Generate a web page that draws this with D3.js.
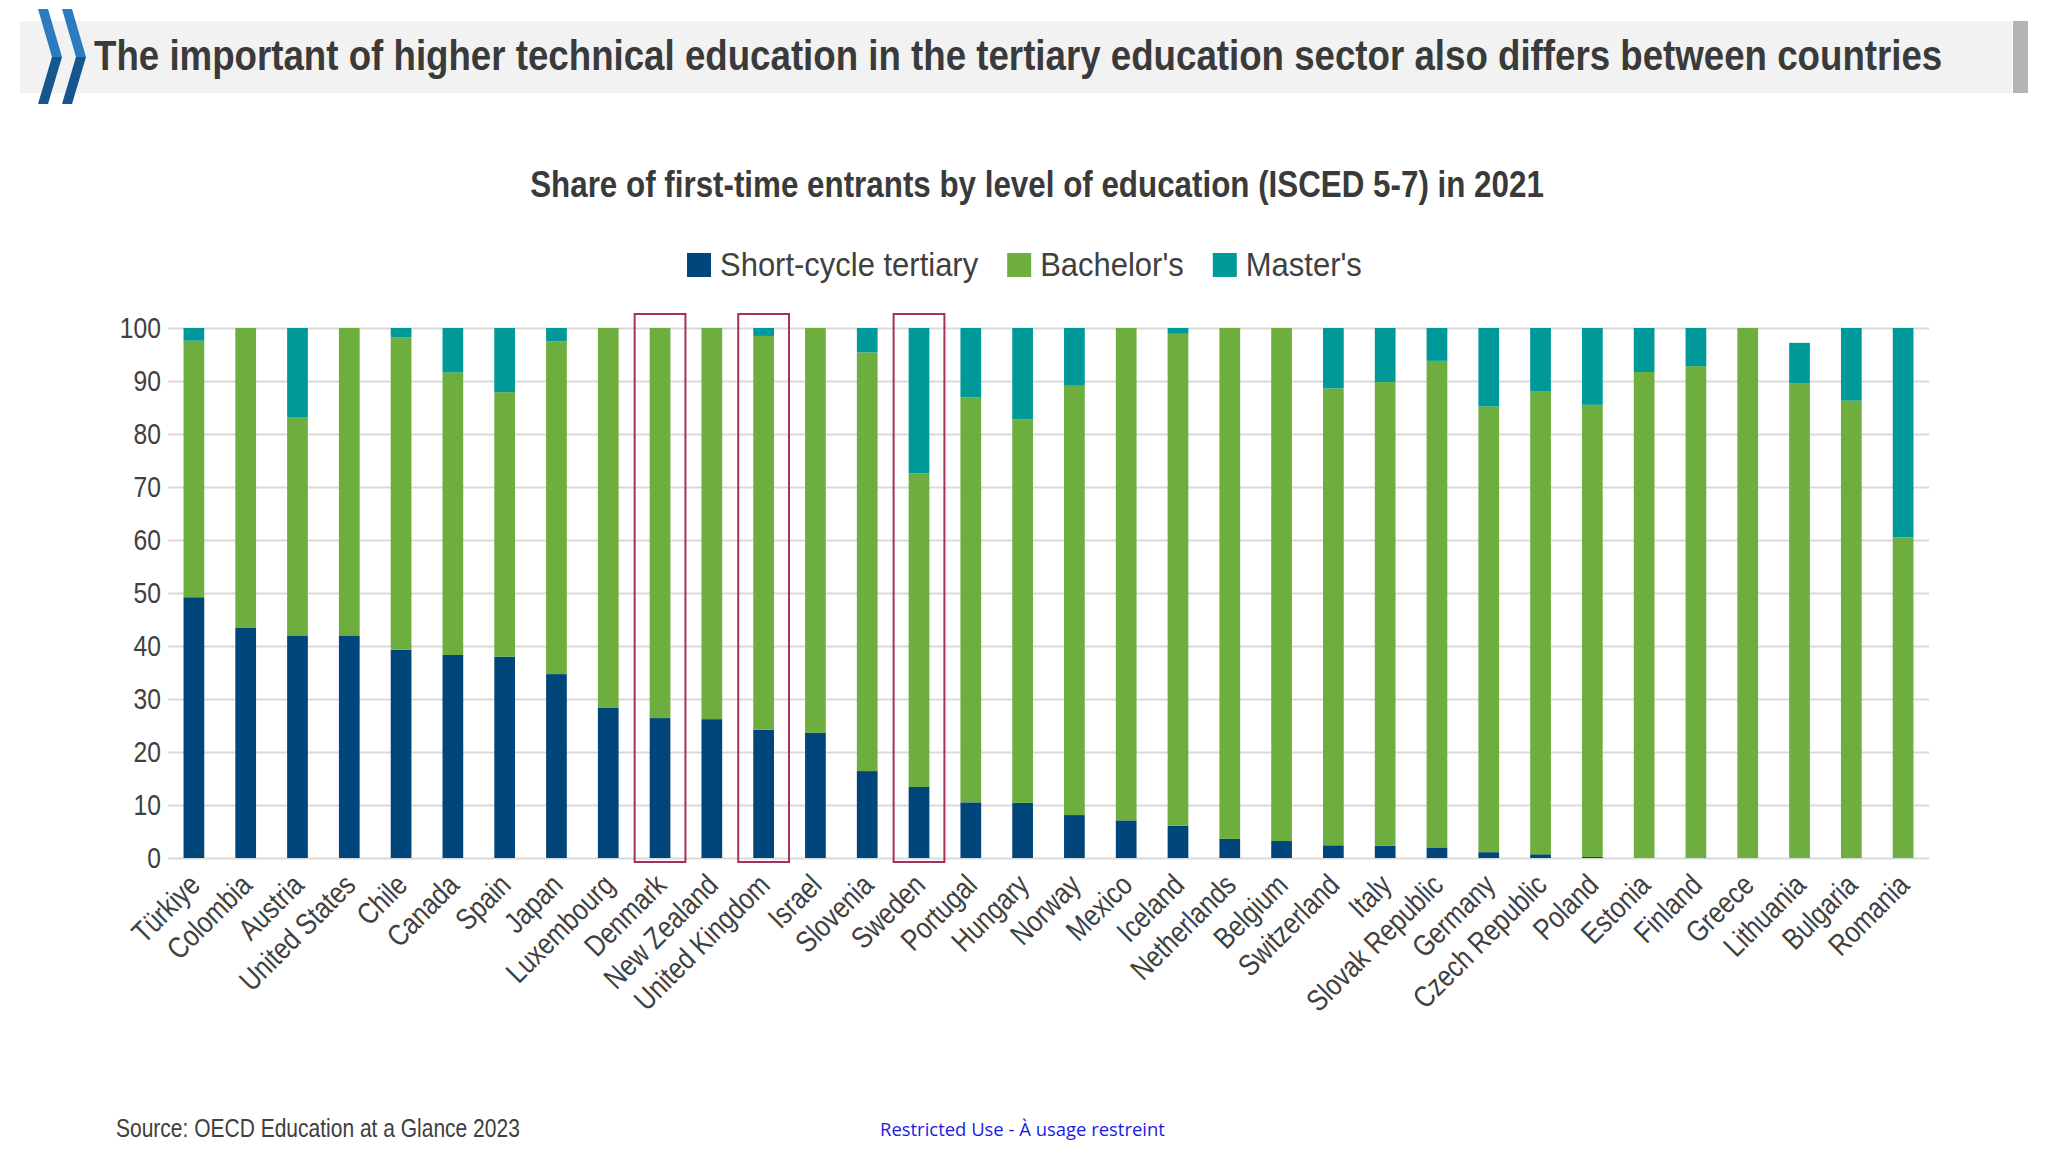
<!DOCTYPE html>
<html>
<head>
<meta charset="utf-8">
<script src="https://cdn.jsdelivr.net/npm/d3@7"></script>
<style>
  html, body { margin: 0; padding: 0; background: #ffffff; }
  svg { display: block; }
</style>
</head>
<body>
<svg id="chart" width="2048" height="1152"></svg>
<script>
// ---------------- DATA ----------------
const countries = ["Türkiye","Colombia","Austria","United States","Chile","Canada","Spain","Japan","Luxembourg","Denmark","New Zealand","United Kingdom","Israel","Slovenia","Sweden","Portugal","Hungary","Norway","Mexico","Iceland","Netherlands","Belgium","Switzerland","Italy","Slovak Republic","Germany","Czech Republic","Poland","Estonia","Finland","Greece","Lithuania","Bulgaria","Romania"];
const shortCycle = [49.2,43.4,42.0,42.0,39.3,38.3,38.0,34.7,28.4,26.4,26.2,24.2,23.6,16.4,13.4,10.5,10.4,8.1,7.1,6.1,3.6,3.2,2.4,2.3,2.0,1.1,0.7,0.2,0,0,0,0,0,0];
const bachelors  = [48.4,56.6,41.2,58.0,58.9,53.3,49.9,62.8,71.6,73.6,73.8,74.3,76.4,79.0,59.2,76.4,72.4,81.0,92.9,92.8,96.4,96.8,86.2,87.5,91.8,84.1,87.4,85.3,91.7,92.8,100,89.6,86.3,60.5];
const masters    = [2.4,0,16.8,0,1.8,8.4,12.1,2.5,0,0,0,1.5,0,4.6,27.4,13.1,17.2,10.9,0,1.1,0,0,11.4,10.2,6.2,14.8,11.9,14.5,8.3,7.2,0,7.6,13.7,39.5];
const seriesNames = ["Short-cycle tertiary","Bachelor's","Master's"];
const highlighted = ["Denmark","United Kingdom","Sweden"];
const yTicks = [0,10,20,30,40,50,60,70,80,90,100];
const headerTitle = "The important of higher technical education in the tertiary education sector also differs between countries";
const chartTitle = "Share of first-time entrants by level of education (ISCED 5-7) in 2021";
const sourceText = "Source: OECD Education at a Glance 2023";
const restrictedText = "Restricted Use - À usage restreint";

// ---------------- STYLE ----------------
const colors = ["#00467a", "#6dae3e", "#009999"];
const sans = '"Liberation Sans",Arial,sans-serif';
const textColor = "#404040";

const svg = d3.select("#chart");
svg.append("rect").attr("width", 2048).attr("height", 1152).attr("fill", "#ffffff");

// text placed at (x,y) and squeezed horizontally to a target width
function fittedText(parent, str, x, y, anchor, targetWidth, attrs) {
  const g = parent.append("g").attr("transform", `translate(${x},${y})`);
  const t = g.append("text").attr("x", 0).attr("y", 0).attr("text-anchor", anchor);
  Object.entries(attrs).forEach(([k, v]) => t.attr(k, v));
  t.text(str);
  const w = t.node().getComputedTextLength();
  t.attr("transform", `scale(${targetWidth / w},1)`);
  return t;
}

// ---------------- HEADER ----------------
svg.append("rect").attr("x", 20).attr("y", 21).attr("width", 1992).attr("height", 72).attr("fill", "#f2f2f2");
svg.append("rect").attr("x", 2013).attr("y", 21).attr("width", 15).attr("height", 72).attr("fill", "#b3b3b3");

function chevron(dx) {
  const g = svg.append("g").attr("transform", `translate(${dx},0)`);
  g.append("polygon").attr("points", "38,9 48,9 62,57 52,57").attr("fill", "#2c7bbf");
  g.append("polygon").attr("points", "52,57 62,57 48,104 38,104").attr("fill", "#16568f");
}
chevron(0);
chevron(24);

fittedText(svg, headerTitle, 94, 70, "start", 1849,
  { "font-family": sans, "font-weight": "bold", "font-size": 43, "fill": "#3a3a3a" });

// ---------------- CHART ----------------
const plotLeft = 168, plotRight = 1929, plotTop = 328, plotBottom = 858;
const x = d3.scaleBand().domain(countries).range([plotLeft, plotRight]).paddingInner(0.6).paddingOuter(0.3);
const y = d3.scaleLinear().domain([0, 100]).range([plotBottom, plotTop]);

fittedText(svg, chartTitle, 1037, 197, "middle", 1014,
  { "font-family": sans, "font-weight": "bold", "font-size": 37, "fill": "#3a3a3a" });

// legend
const legend = svg.append("g");
let lx = 687;
const legendScale = 0.925;
seriesNames.forEach((name, i) => {
  legend.append("rect").attr("x", lx).attr("y", 253).attr("width", 24).attr("height", 24).attr("fill", colors[i]);
  const g = legend.append("g").attr("transform", `translate(${lx + 33},276)`);
  const t = g.append("text")
    .attr("font-family", sans).attr("font-size", 33.5).attr("fill", textColor)
    .attr("transform", `scale(${legendScale},1)`)
    .text(name);
  const w = t.node().getComputedTextLength() * legendScale;
  lx = lx + 33 + w + 29;
});

// gridlines + y axis
const yAxis = d3.axisLeft(y).tickValues(yTicks).tickSize(-(plotRight - plotLeft)).tickPadding(7);
const gy = svg.append("g").attr("transform", `translate(${plotLeft},0)`).call(yAxis);
gy.select(".domain").remove();
gy.selectAll(".tick line").attr("stroke", "#d9d9d9").attr("stroke-width", 2);
gy.selectAll(".tick text")
  .attr("font-family", sans).attr("font-size", 29).attr("fill", textColor)
  .attr("x", 0)
  .attr("transform", "translate(-7,0) scale(0.85,1)");

// stacked bars
const rows = countries.map((c, i) => ({ country: c, s0: shortCycle[i], s1: bachelors[i], s2: masters[i] }));
const layers = d3.stack().keys(["s0", "s1", "s2"])(rows);

svg.append("g").selectAll("g")
  .data(layers)
  .join("g")
  .attr("fill", (d, i) => colors[i])
  .selectAll("rect")
  .data(d => d)
  .join("rect")
  .attr("x", d => x(d.data.country))
  .attr("width", x.bandwidth())
  .attr("y", d => y(d[1]))
  .attr("height", d => Math.max(0, y(d[0]) - y(d[1])));

// highlight boxes
const step = x.step();
svg.append("g").selectAll("rect")
  .data(highlighted)
  .join("rect")
  .attr("x", d => x(d) + x.bandwidth() / 2 - step / 2 + 0.5)
  .attr("width", step - 1)
  .attr("y", y(100) - 14)
  .attr("height", y(0) - y(100) + 18)
  .attr("fill", "none")
  .attr("stroke", "#a3305e")
  .attr("stroke-width", 2);

// x axis labels
const xAxis = d3.axisBottom(x).tickSize(0).tickPadding(0);
const gx = svg.append("g").attr("transform", `translate(0,${y(0)})`).call(xAxis);
gx.select(".domain").remove();
gx.selectAll(".tick text")
  .attr("font-family", sans).attr("font-size", 30).attr("fill", textColor)
  .attr("text-anchor", "end")
  .attr("dy", null)
  .attr("y", null)
  .attr("transform", "translate(8,29) rotate(-45) scale(0.83,1)");

// ---------------- FOOTER ----------------
fittedText(svg, sourceText, 116, 1137, "start", 404,
  { "font-family": sans, "font-size": 25, "fill": "#404040" });

fittedText(svg, restrictedText, 880, 1136, "start", 285,
  { "font-family": '"Open Sans","Liberation Sans",sans-serif', "font-size": 19, "fill": "#1a1ae6" });
</script>
</body>
</html>
